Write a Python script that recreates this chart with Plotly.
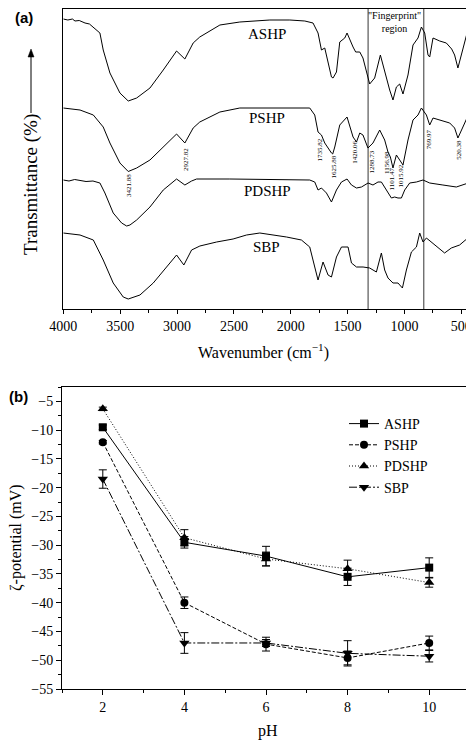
import plotly.graph_objects as go

# ---------- (a) FTIR spectra: wavenumber (cm-1) vs transmittance (arbitrary units, stacked) ----------
ashp_wn = [4000, 3960, 3920, 3897, 3860, 3809, 3770, 3736, 3678, 3649, 3590, 3502, 3429, 3355, 3238,
           3121, 3004, 2931, 2858, 2800, 2623, 2448, 2184, 2008, 1876, 1804, 1760, 1730, 1701, 1642,
           1628, 1598, 1569, 1525, 1505, 1452, 1429, 1393, 1365, 1306, 1262, 1212, 1174, 1130, 1101,
           1071, 1042, 1013, 969, 925, 881, 851, 822, 793, 778, 749, 690, 632, 585, 559, 530, 486,
           454, 403]
ashp_t = [290, 289, 290, 288, 288.5, 286, 285, 282, 276, 259, 236, 216, 208, 211, 221,
          239, 258, 250, 266, 272, 284, 287, 289, 289, 288, 286, 276, 259, 261, 232,
          231, 237, 267, 271, 276, 262, 257, 257, 251, 225, 231, 254, 237, 219, 209,
          222, 225, 215, 234, 264, 271, 282, 276, 254, 252, 271, 268, 266, 260, 254, 241, 259,
          274, 289]

pshp_wn = [4000, 3853, 3736, 3649, 3590, 3502, 3429, 3355, 3238, 3121, 3004, 2931, 2858, 2800,
           2623, 2448, 2184, 1833, 1789, 1760, 1730, 1701, 1642, 1631, 1613, 1569, 1505, 1452,
           1422, 1393, 1365, 1321, 1277, 1218, 1174, 1145, 1124, 1101, 1071, 1042, 1013, 969,
           925, 881, 851, 807, 778, 749, 690, 602, 559, 530, 486, 412, 403]
pshp_t = [201, 199, 194, 182, 166, 146, 137.5, 141, 149, 162, 175, 166, 181, 187,
          197, 201, 201, 201, 194, 177, 174, 166, 156, 155, 162, 184, 192, 172,
          167, 176, 174, 161, 166, 179, 169, 157, 152, 141, 154, 149, 144, 169,
          189, 194, 201, 194, 184, 191, 189, 186, 181, 171, 182, 201, 203]

pdshp_wn = [4000, 3950, 3900, 3853, 3800, 3739, 3700, 3678, 3634, 3561, 3487, 3443, 3414, 3355,
            3238, 3121, 3004, 2931, 2872, 2828, 2536, 1833, 1789, 1760, 1730, 1686, 1642, 1598,
            1554, 1505, 1466, 1422, 1378, 1320, 1277, 1233, 1203, 1159, 1115, 1086, 1057, 1027,
            998, 954, 895, 837, 778, 662, 544, 412, 403]
pdshp_t = [129, 128, 129.5, 128.5, 127.5, 128, 127, 126, 116, 96, 86, 83, 84, 89,
           102, 119, 130, 124, 128, 130, 130, 129, 127, 119, 121, 116, 107, 119,
           127, 130, 124, 121, 122, 126, 124, 127, 127, 119, 111, 112, 111, 111,
           119, 126, 127, 129, 126, 124, 122, 127, 128.5]

sbp_wn = [4000, 3853, 3736, 3649, 3561, 3473, 3429, 3326, 3209, 3092, 3004, 2940, 2872, 2799,
          2652, 2507, 2389, 2272, 2037, 1906, 1833, 1789, 1760, 1716, 1672, 1642, 1598, 1554,
          1496, 1466, 1422, 1364, 1306, 1247, 1203, 1174, 1145, 1101, 1057, 1018, 983, 939,
          895, 866, 837, 807, 764, 706, 647, 588, 515, 412, 403]
sbp_t = [76, 74, 69, 49, 26, 12, 10, 14, 26, 42, 54, 44, 59, 63,
         67, 70, 74, 76, 72, 69, 62, 42, 29, 47, 34, 32, 52, 62,
         62, 46, 42, 42, 41, 37, 56, 39, 31, 26, 26, 21, 39, 57,
         62, 76, 67, 71, 67, 61, 56, 61, 64, 74, 77]

spectra = [
    ("ASHP", ashp_wn, ashp_t),
    ("PSHP", pshp_wn, pshp_t),
    ("PDSHP", pdshp_wn, pdshp_t),
    ("SBP", sbp_wn, sbp_t),
]

# sample name labels (wavenumber, transmittance)
name_labels = ["ASHP", "PSHP", "PDSHP", "SBP"]
name_wn = [2213, 2213, 2202, 2213]
name_t = [275, 191, 118, 62]

# peak labels on the PSHP spectrum
peak_text = ["3421.88", "2927.82", "1735.82", "1625.88", "1420.06", "1288.73",
             "1156.98", "1101.47", "1015.92", "769.97", "520.38"]
peak_wn = [3423, 2922, 1739, 1628, 1437, 1282, 1154, 1106, 1027, 782, 522]
peak_t = [124, 150, 159, 141.5, 157, 147, 147, 130, 133, 170, 159]

fingerprint_lines = [1320, 830]

# ---------- (b) zeta potential vs pH ----------
ph = [2, 4, 6, 8, 10]
zeta = {
    "ASHP": [-9.5, -29.5, -31.9, -35.5, -33.9],
    "PSHP": [-12.1, -40.0, -47.2, -49.6, -47.0],
    "PDSHP": [-6.3, -28.7, -32.4, -34.1, -36.5],
    "SBP": [-18.5, -47.0, -47.0, -48.8, -49.3],
}
zeta_err = {
    "ASHP": [0.4, 1.0, 1.7, 1.5, 1.7],
    "PSHP": [0.3, 1.0, 1.2, 1.2, 1.2],
    "PDSHP": [0.3, 1.4, 1.2, 1.5, 0.8],
    "SBP": [1.6, 1.8, 0.6, 2.2, 1.0],
}
styles = {
    "ASHP": ("solid", "square", 8),
    "PSHP": ("4px,2px", "circle", 8),
    "PDSHP": ("1px,2px", "triangle-up", 9),
    "SBP": ("8px,2px,2px,2px", "triangle-down", 9),
}

SERIF = "Liberation Serif"
W, H = 474, 740
OFF = 8  # the page body margin shifts the figure by 8 px


def fx(px):
    return (px - OFF) / W


def fy(py):
    return 1 - (py - OFF) / H


fig = go.Figure()

for name, wn, t in spectra:
    fig.add_trace(go.Scatter(x=wn, y=t, mode="lines", line=dict(color="black", width=1),
                             showlegend=False, xaxis="x", yaxis="y", hoverinfo="skip"))

for name in ["ASHP", "PSHP", "PDSHP", "SBP"]:
    dash, sym, msize = styles[name]
    fig.add_trace(go.Scatter(
        x=ph, y=zeta[name], name=name, mode="lines+markers",
        line=dict(color="black", width=1, dash=dash),
        marker=dict(symbol=sym, size=msize, color="black"),
        error_y=dict(type="data", array=zeta_err[name], color="black", thickness=1, width=4),
        xaxis="x2", yaxis="y2"))

for wn in fingerprint_lines:
    fig.add_shape(type="line", x0=wn, x1=wn, y0=0, y1=1, xref="x", yref="y domain",
                  line=dict(color="black", width=0.8))

for txt, wn, t in zip(name_labels, name_wn, name_t):
    fig.add_annotation(x=wn, y=t, xref="x", yref="y", text=txt, showarrow=False,
                       font=dict(family=SERIF, size=15, color="black"))

for txt, wn, t in zip(peak_text, peak_wn, peak_t):
    fig.add_annotation(x=wn, y=t, xref="x", yref="y", text=txt, showarrow=False, textangle=-90,
                       font=dict(family=SERIF, size=7, color="black"))

fig.add_annotation(x=1085, y=287, xref="x", yref="y", text='"Fingerprint"<br>region',
                   showarrow=False, font=dict(family=SERIF, size=10, color="black"))

# y title arrow of panel (a): shaft + head
fig.add_shape(type="line", xref="paper", yref="paper", x0=fx(31), x1=fx(31),
              y0=fy(113), y1=fy(54), line=dict(color="black", width=1))
fig.add_shape(type="path", xref="paper", yref="paper",
              path=f"M {fx(28)} {fy(57)} L {fx(34)} {fy(57)} L {fx(31)} {fy(49)} Z",
              fillcolor="black", line=dict(color="black", width=0.5))


def label(x, y, text, size, angle=0, family=SERIF):
    fig.add_annotation(x=fx(x), y=fy(y), xref="paper", yref="paper", text=text, textangle=angle,
                       xanchor="center", yanchor="middle", showarrow=False,
                       font=dict(family=family, size=size, color="black"))


label(31, 185, "Transmittance (%)", 19, -90)
label(263, 351, "Wavenumber (cm<sup>−1</sup>)", 16)
label(16, 538, "ζ-potential (mV)", 16, -90)
label(268, 731, "pH", 16)
label(23.5, 18, "<b>(a)</b>", 15, family="Liberation Sans")
label(18.5, 396, "<b>(b)</b>", 15, family="Liberation Sans")

axis_common = dict(showline=True, mirror=True, linecolor="black", linewidth=1, showgrid=False,
                   zeroline=False, automargin=False, tickcolor="black",
                   tickfont=dict(family=SERIF, size=14, color="black"))

fig.update_layout(
    width=W, height=H,
    margin=dict(l=0, r=0, t=0, b=0, autoexpand=False),
    paper_bgcolor="white", plot_bgcolor="white",
    font=dict(family=SERIF, color="black"),
    xaxis=dict(domain=[fx(63.3), fx(472.7)], anchor="y", range=[4000, 400], tick0=0, dtick=500,
               ticks="outside", ticklen=4,
               minor=dict(dtick=250, ticks="outside", ticklen=3, tickcolor="black"), **axis_common),
    yaxis=dict(domain=[fy(309), 1 - 0.5 / H], anchor="x", range=[0, 300.5], showticklabels=False,
               ticks="", **axis_common),
    xaxis2=dict(domain=[fx(62), fx(470)], anchor="y2", range=[1, 11], tick0=0, dtick=2,
                ticks="outside", ticklen=5,
                minor=dict(dtick=1, ticks="outside", ticklen=3, tickcolor="black"), **axis_common),
    yaxis2=dict(domain=[fy(689), fy(387)], anchor="x2", range=[-55, -2.5], tick0=0, dtick=5,
                ticks="outside", ticklen=5,
                minor=dict(dtick=2.5, ticks="outside", ticklen=3, tickcolor="black"), **axis_common),
    legend=dict(x=fx(344), y=fy(408), xanchor="left", yanchor="top", bgcolor="rgba(0,0,0,0)",
                font=dict(family=SERIF, size=14, color="black"), tracegroupgap=0),
)

fig.write_html("out.html")
